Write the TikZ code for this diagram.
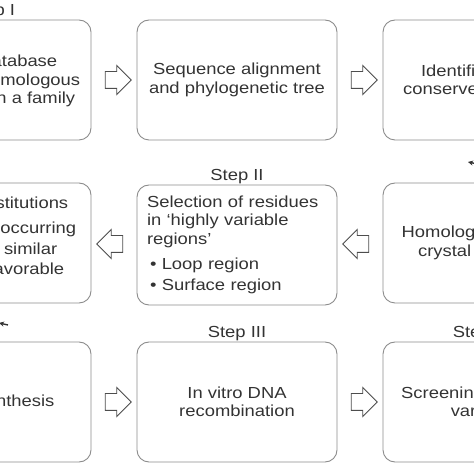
\documentclass[tikz,border=0pt]{standalone}
\usepackage{fontspec}
\setmainfont{Liberation Sans}[FakeStretch=1.15]
\usetikzlibrary{positioning,calc,shapes.arrows,arrows.meta}
\definecolor{boxline}{HTML}{8C8C8C}
\definecolor{textgray}{HTML}{333333}
\definecolor{arrowline}{HTML}{4D4D4D}
\begin{document}
\begin{tikzpicture}[x=1pt,y=1pt,
  stagefont/.style={font=\fontsize{16}{18.3}\selectfont},
  stagebox/.style={draw=boxline,line width=0.9pt,rounded corners=12pt,
    minimum width=200pt,minimum height=120pt,inner sep=10pt,
    align=center,text=textgray,stagefont},
  cuttext/.style={align=left,inner sep=0pt,text=textgray,stagefont},
  steplabel/.style={inner sep=0pt,text=textgray,stagefont},
  flowarrow/.style={single arrow,draw=arrowline,fill=white,line width=0.9pt,
    minimum height=26pt,inner xsep=0pt,inner ysep=8pt,
    single arrow head extend=6pt}]
\useasboundingbox (0,0) rectangle (474,474);
\clip (0,0) rectangle (474,474);
% row 1
\node[stagebox] (search) at (-9,394) {};
\node[stagebox] (align) at (237,394) {Sequence alignment\\and phylogenetic tree};
\node[stagebox] (conserved) at (483,394) {Identification of\\conserved residues};
\node[cuttext,anchor=west] (searchtext) at (0,393)
  {\hspace*{57pt}\llap{Search database}\\
   \hspace*{80pt}\llap{of homologous}\\
   \hspace*{75pt}\llap{sequences in a family}};
% row 2
\node[stagebox] (subst) at (-9,231) {};
\node[stagebox,align=left,text width=180pt] (select) at (237,229)
  {Selection of residues\\in ‘highly variable\\regions’\\[7.4pt]
   \hspace*{3pt}• Loop region\\[2.7pt]\hspace*{3pt}• Surface region};
\node[stagebox] (model) at (483,231) {Homology modeling\\crystal structure};
\node[cuttext,anchor=west] (substtext) at (0,238)
  {\hspace*{68pt}\llap{Substitutions}\\[6.7pt]
   \hspace*{76pt}\llap{• naturally occurring}\\[2.7pt]
   \hspace*{57pt}\llap{• or similar}\\[2.2pt]
   \hspace*{64pt}\llap{• favorable}};
% row 3
\node[stagebox] (gene) at (-9,72) {Gene synthesis};
\node[stagebox] (recomb) at (237,72) {In vitro DNA\\recombination};
\node[stagebox] (screen) at (483,72) {Screening for stable\\variants};
% step labels
\node[steplabel,above=1pt of search.north] (stepi) {Step I};
\node[steplabel,above=1pt of select.north] (stepii) {Step II};
\node[steplabel,above=1pt of recomb.north] (stepiii) {Step III};
\node[steplabel,above=1pt of screen.north] (stepiv) {Step IV};
% block arrows
\node[flowarrow] (a12) at ($(search.east)!0.5!(align.west)$) {};
\node[flowarrow] (a23) at ($(align.east)!0.5!(conserved.west)$) {};
\node[flowarrow,shape border rotate=180] (a54) at ($(subst.east)!0.5!(select.west)$) {};
\node[flowarrow,shape border rotate=180] (a65) at ($(select.east)!0.5!(model.west)$) {};
\node[flowarrow] (a78) at ($(gene.east)!0.5!(recomb.west)$) {};
\node[flowarrow] (a89) at ($(recomb.east)!0.5!(screen.west)$) {};
% bits of the turn arrows
\coordinate (turnr) at (468,312);
\coordinate (turnl) at (-1,151);
\draw[textgray,line width=1.4pt,-{Stealth[length=5pt,width=5pt]}] (482,309) -- (turnr);
\draw[textgray,line width=1.4pt,-{Stealth[length=5pt,width=5pt]}] (8,149) -- (turnl);
\end{tikzpicture}
\end{document}
